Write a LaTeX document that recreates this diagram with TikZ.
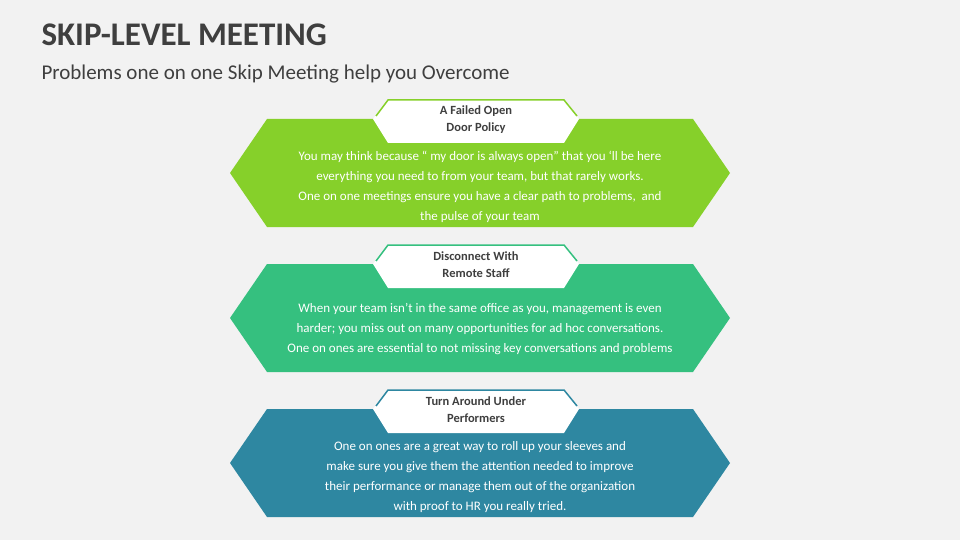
\documentclass[tikz,border=0pt]{standalone}
\usepackage{fontspec}
\setmainfont{Carlito}
\definecolor{bg}{HTML}{F2F2F2}
\definecolor{c1}{HTML}{86D02A}
\definecolor{c2}{HTML}{35C07F}
\definecolor{c3}{HTML}{2E87A1}
\definecolor{tx}{HTML}{3F3F3F}
\begin{document}
\begin{tikzpicture}[x=1pt,y=-1pt,
  body/.style={text=white,align=center,font=\fontsize{13}{20}\selectfont},
  lbl/.style={text=tx,align=center,font=\bfseries\fontsize{12.5}{17}\selectfont}]
\fill[bg] (0,0) rectangle (960,540);
\useasboundingbox (0,0) rectangle (960,540);
\node[anchor=west,text=tx,font=\bfseries\fontsize{33}{36}\selectfont] (title) at (38,35) {SKIP-LEVEL MEETING};
\node[anchor=west,text=tx,font=\fontsize{21}{24}\selectfont] (sub) at (38,74) {Problems one on one Skip Meeting help you Overcome};
\newcommand{\panel}[5]{%
  \begin{scope}[yshift=#1]
  \fill[#2] (230,173) -- (267,119) -- (693,119) -- (730,173) -- (693,227) -- (267,227) -- cycle;
  \fill[bg] (370,121) -- (388,100) -- (564,100) -- (580,121) -- (564,143) -- (388,143) -- cycle;
  \fill[white] (373,119) -- (388,100) -- (564,100) -- (579,119) -- (564,143) -- (388,143) -- cycle;
  \draw[#2,line width=1.5] (376,116) -- (388,100) -- (564,100) -- (577,116);
  \node[lbl] (l#5) at (476,120) {#3};
  \node[body] (b#5) at (480,#4) {#4x};
  \end{scope}}
\begin{scope}
  \fill[c1] (230,173) -- (267,119) -- (693,119) -- (730,173) -- (693,227) -- (267,227) -- cycle;
  \fill[white] (373,119) -- (388,100) -- (564,100) -- (579,119) -- (564,143) -- (388,143) -- cycle;
  \draw[c1,line width=1.5] (376,116) -- (388,100) -- (564,100) -- (577,116);
  \node[lbl] (l1) at (476,120) {A Failed Open\\Door Policy};
  \node[body] (b1) at (480,187) {You may think because “ my door is always open” that you ‘ll be here\\everything you need to from your team, but that rarely works.\\One on one meetings ensure you have a clear path to problems,\ \ and\\the pulse of your team};
\end{scope}
\begin{scope}[yshift=-145pt]
  \fill[c2] (230,173) -- (267,119) -- (693,119) -- (730,173) -- (693,227) -- (267,227) -- cycle;
  \fill[white] (373,119) -- (388,100) -- (564,100) -- (579,119) -- (564,143) -- (388,143) -- cycle;
  \draw[c2,line width=1.5] (376,116) -- (388,100) -- (564,100) -- (577,116);
  \node[lbl] (l2) at (476,120) {Disconnect With\\Remote Staff};
  \node[body] (b2) at (480,184) {When your team isn’t in the same office as you, management is even\\harder; you miss out on many opportunities for ad hoc conversations.\\One on ones are essential to not missing key conversations and problems};
\end{scope}
\begin{scope}[yshift=-290pt]
  \fill[c3] (230,173) -- (267,119) -- (693,119) -- (730,173) -- (693,227) -- (267,227) -- cycle;
  \fill[white] (373,119) -- (388,100) -- (564,100) -- (579,119) -- (564,143) -- (388,143) -- cycle;
  \draw[c3,line width=1.5] (376,116) -- (388,100) -- (564,100) -- (577,116);
  \node[lbl] (l3) at (476,120) {Turn Around Under\\Performers};
  \node[body] (b3) at (480,187) {One on ones are a great way to roll up your sleeves and\\make sure you give them the attention needed to improve\\their performance or manage them out of the organization\\with proof to HR you really tried.};
\end{scope}
\end{tikzpicture}
\end{document}
